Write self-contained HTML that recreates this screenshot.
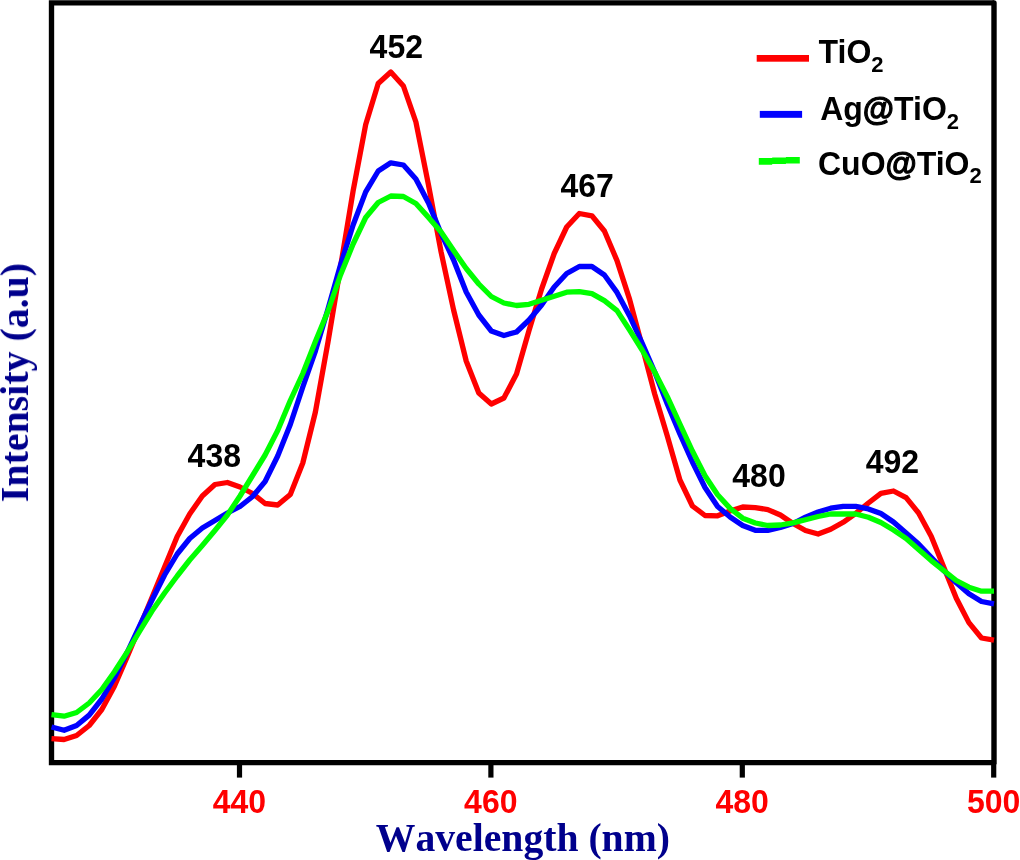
<!DOCTYPE html>
<html><head><meta charset="utf-8"><style>
html,body{margin:0;padding:0;background:#fff;}
body{width:1020px;height:860px;overflow:hidden;}
svg{display:block;}
text{will-change:transform;}
.sans{font-family:"Liberation Sans",sans-serif;font-weight:bold;}
.serif{font-family:"Liberation Serif",serif;font-weight:bold;font-kerning:none;}
</style></head><body>
<svg width="1020" height="860" viewBox="0 0 1020 860">
<rect width="1020" height="860" fill="#fff"/>
<path d="M994,762.65 L51.5,762.65 L51.5,2.93 L994,2.93" fill="none" stroke="#000" stroke-width="5.35" stroke-linejoin="miter"/>
<path d="M994,2.93 L994,762.65" fill="none" stroke="#000" stroke-width="5.4" stroke-linecap="round"/>
<g fill="none" stroke-width="5.3" stroke-linejoin="round">
<polyline stroke="#ff0000" points="51.5,738.6 64.1,739.5 76.6,735.5 89.2,725.5 101.8,709.5 114.3,686.5 126.9,657.5 139.5,627.5 152.0,597.5 164.6,567.0 177.2,536.5 189.7,514.0 202.3,496.0 214.9,484.5 227.4,482.5 240.0,487.0 252.6,493.5 265.1,503.5 277.7,505.0 290.3,494.5 302.8,463.0 315.4,412.0 328.0,342.0 340.5,267.0 353.1,191.0 365.7,124.4 378.2,83.5 390.8,72.0 403.4,86.0 415.9,122.0 428.5,185.0 441.1,252.0 453.6,310.0 466.2,361.0 478.8,393.0 491.3,404.0 503.9,398.0 516.5,374.0 529.0,330.5 541.6,289.0 554.2,253.5 566.7,227.0 579.3,213.5 591.9,215.8 604.4,231.0 617.0,260.6 629.6,299.4 642.1,346.0 654.7,394.0 667.3,436.0 679.9,480.0 692.4,506.0 705.0,515.5 717.6,515.8 730.1,511.0 742.7,507.0 755.3,507.6 767.8,509.6 780.4,515.0 793.0,523.5 805.5,530.5 818.1,534.0 830.7,529.3 843.2,522.3 855.8,513.3 868.4,503.0 880.9,493.4 893.5,491.0 906.1,497.6 918.6,513.0 931.2,536.3 943.8,567.3 956.3,598.2 968.9,622.6 981.5,638.0 994.0,640.2"/>
<polyline stroke="#0000ff" points="51.5,727.0 64.1,730.3 76.6,725.5 89.2,715.1 101.8,699.0 114.3,678.0 126.9,653.0 139.5,626.0 152.0,600.0 164.6,575.0 177.2,554.0 189.7,538.5 202.3,528.0 214.9,520.5 227.4,513.0 240.0,506.5 252.6,496.5 265.1,481.5 277.7,456.0 290.3,424.5 302.8,387.0 315.4,351.0 328.0,309.0 340.5,265.0 353.1,225.0 365.7,191.9 378.2,171.0 390.8,162.8 403.4,165.0 415.9,179.0 428.5,203.0 441.1,233.4 453.6,260.0 466.2,292.0 478.8,315.0 491.3,331.0 503.9,335.5 516.5,332.0 529.0,320.0 541.6,305.0 554.2,287.0 566.7,273.5 579.3,266.5 591.9,266.5 604.4,275.0 617.0,292.4 629.6,316.0 642.1,343.0 654.7,372.0 667.3,404.0 679.9,434.0 692.4,462.0 705.0,487.5 717.6,506.5 730.1,517.0 742.7,525.5 755.3,530.3 767.8,530.3 780.4,527.5 793.0,523.5 805.5,517.2 818.1,512.0 830.7,508.2 843.2,506.3 855.8,506.3 868.4,508.9 880.9,513.5 893.5,522.0 906.1,533.0 918.6,544.0 931.2,557.3 943.8,570.6 956.3,582.8 968.9,593.8 981.5,601.5 994.0,603.8"/>
<polyline stroke="#00ff00" points="51.5,714.6 64.1,716.2 76.6,712.5 89.2,703.0 101.8,689.5 114.3,672.0 126.9,652.5 139.5,631.5 152.0,611.0 164.6,593.0 177.2,576.0 189.7,560.0 202.3,545.5 214.9,530.5 227.4,515.0 240.0,496.0 252.6,475.5 265.1,455.0 277.7,430.5 290.3,400.5 302.8,373.5 315.4,341.5 328.0,311.0 340.5,275.0 353.1,244.0 365.7,217.5 378.2,202.5 390.8,196.0 403.4,196.5 415.9,203.5 428.5,217.4 441.1,232.0 453.6,250.5 466.2,268.5 478.8,284.0 491.3,296.5 503.9,303.0 516.5,305.5 529.0,304.3 541.6,300.3 554.2,296.3 566.7,292.2 579.3,291.6 591.9,293.6 604.4,300.6 617.0,310.6 629.6,330.0 642.1,350.0 654.7,372.0 667.3,396.7 679.9,424.0 692.4,451.0 705.0,475.7 717.6,494.8 730.1,508.4 742.7,518.2 755.3,523.0 767.8,525.5 780.4,525.0 793.0,522.9 805.5,519.7 818.1,516.5 830.7,514.0 843.2,514.0 855.8,514.0 868.4,517.2 880.9,522.5 893.5,530.0 906.1,538.5 918.6,549.6 931.2,560.6 943.8,570.6 956.3,580.5 968.9,587.2 981.5,591.2 994.0,591.2"/>
</g>
<g stroke="#000" stroke-width="5.2">
<line x1="239.5" y1="763" x2="239.5" y2="777.6"/>
<line x1="490.9" y1="763" x2="490.9" y2="777.6"/>
<line x1="742.3" y1="763" x2="742.3" y2="777.6"/>
<line x1="993.7" y1="763" x2="993.7" y2="777.6"/>
</g>
<g class="sans" font-size="32" text-anchor="middle"><text transform="translate(239.4,812.5) scale(1.0,1.045)" fill="#ff0000">440</text><text transform="translate(490.8,812.5) scale(1.0,1.045)" fill="#ff0000">460</text><text transform="translate(742.2,812.5) scale(1.0,1.045)" fill="#ff0000">480</text><text transform="translate(993.7,812.5) scale(1.0,1.045)" fill="#ff0000">500</text><text transform="translate(214.3,467.0) scale(1.0,1.045)" fill="#000">438</text><text transform="translate(396.3,57.9) scale(1.0,1.045)" fill="#000">452</text><text transform="translate(587.1,197.4) scale(1.0,1.045)" fill="#000">467</text><text transform="translate(759.0,487.3) scale(1.0,1.045)" fill="#000">480</text><text transform="translate(892.4,472.8) scale(1.0,1.045)" fill="#000">492</text></g>
<rect x="756.7" y="55" width="52.3" height="6.7" fill="#ff0000"/>
<rect x="759.8" y="110.9" width="42.3" height="6.9" fill="#0000ff"/>
<path d="M758.8,158.1H772.2V157.5H785.9V157.1H799.8V163.5H785.9V163.9H772.2V164.7H758.8Z" fill="#00ff00"/>
<g class="sans" font-size="32" fill="#000">
<text transform="translate(818.6,63.4) scale(1,1.04)">TiO<tspan font-size="22" dy="8.3">2</tspan></text>
<text transform="translate(820.2,120.2) scale(1,1.04)">Ag<tspan stroke="#000" stroke-width="1.1">@</tspan>TiO<tspan font-size="22" dy="8.3">2</tspan></text>
<text transform="translate(818,174.7) scale(1,1.04)">CuO<tspan stroke="#000" stroke-width="1.1">@</tspan>TiO<tspan font-size="22" dy="8.3">2</tspan></text>
</g>
<text class="serif" font-size="40" fill="#00008c" transform="translate(375.8,850.7) scale(0.9915,1)">Wavelength (nm)</text>
<text class="serif" font-size="40" fill="#00008c" transform="translate(28,502.2) rotate(-90) scale(0.997,1)">Intensity (a.u)</text>
</svg>
</body></html>
